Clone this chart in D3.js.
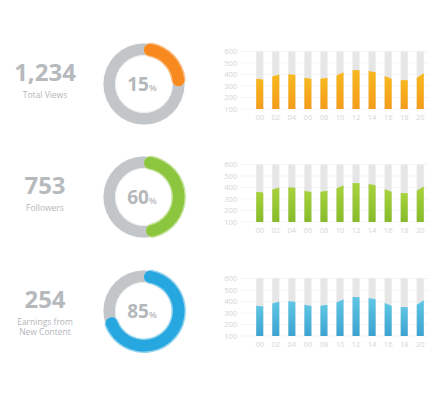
<!DOCTYPE html>
<html>
<head>
<meta charset="utf-8">
<script src="https://cdn.jsdelivr.net/npm/d3@7"></script>
<style>
	body{margin:0;background:#fff;}
	text{font-family:"Open Sans", sans-serif;}
</style>
</head>
<body>
<svg id="chart" width="437" height="396"></svg>
<script>
// stat blocks
const statValues = ["1,234", "753", "254"];
const statLabels = [["Total Views"], ["Followers"], ["Earnings from", "New Content"]];
const percentLabels = [15, 60, 85];
// share of the ring that is coloured, as drawn
const ringShare = [0.26, 0.49, 0.72];

// bar charts (same shape in every row)
const hours = ["00", "02", "04", "06", "08", "10", "12", "14", "16", "18", "20"];
const yTicks = [100, 200, 300, 400, 500, 600];
const barStart = [363, 383, 403, 371, 363, 391, 440, 431, 386, 351, 371];
const barEnd = [357, 400, 397, 360, 371, 420, 437, 420, 363, 351, 411];

const ringColors = ["#f7891f", "#8cc63e", "#26a7df"];
const ringGlow = ["#fbc089", "#c6e39b", "#94d3ee"];
const barTop = ["#f8b81c", "#a8d23c", "#5fc6e4"];
const barBottom = ["#f59c1d", "#86bb2c", "#3ba3cf"];

const svg = d3.select("#chart");
const rowY = [0, 113, 227];

const defs = svg.append("defs");
barTop.forEach(function(c, i){
	let g = defs.append("linearGradient")
		.attr("id", "bargrad" + i)
		.attr("x1", 0).attr("y1", 0).attr("x2", 0).attr("y2", 1);
	g.append("stop").attr("offset", "0%").attr("stop-color", c);
	g.append("stop").attr("offset", "100%").attr("stop-color", barBottom[i]);
});

const x = d3.scaleBand().domain(hours).range([253, 427]).paddingInner(0.56).paddingOuter(0.2);
const bw = x.bandwidth();

rowY.forEach(function(dy, i){
	let row = svg.append("g").attr("transform", "translate(0," + dy + ")");
	drawStat(row, i);
	drawRing(row, i);
	drawBars(row, i);
});

//big number with its caption
function drawStat(row, i){
	row.append("text")
		.attr("x", 45).attr("y", 81)
		.attr("text-anchor", "middle")
		.attr("font-size", 24).attr("font-weight", 700)
		.attr("fill", "#b7babd")
		.text(statValues[i]);
	row.selectAll("text.caption")
		.data(statLabels[i])
		.enter().append("text")
		.attr("class", "caption")
		.attr("x", 45)
		.attr("y", function(d, j){ return 98 + j * 10; })
		.attr("text-anchor", "middle")
		.attr("font-size", 8.5)
		.attr("fill", "#b3b6b9")
		.text(function(d){ return d; });
}

//donut ring with percent in the middle
function drawRing(row, i){
	let g = row.append("g").attr("transform", "translate(144,84)");
	g.append("circle").attr("r", 41).attr("fill", "#f1f2f3");
	g.append("path")
		.attr("d", d3.arc().innerRadius(29).outerRadius(40.5)({startAngle: 0, endAngle: 2 * Math.PI}))
		.attr("fill", "#c3c6c9");
	g.append("circle").attr("r", 28.5).attr("fill", "#fff").attr("stroke", "#eceeef").attr("stroke-width", 1);
	let a = ringShare[i] * 2 * Math.PI;
	g.append("path")
		.attr("d", d3.arc().innerRadius(27.5).outerRadius(42).cornerRadius(7)({startAngle: 0, endAngle: a}))
		.attr("fill", ringGlow[i]);
	g.append("path")
		.attr("d", d3.arc().innerRadius(29).outerRadius(40.5).cornerRadius(6)({startAngle: 0, endAngle: a}))
		.attr("fill", ringColors[i]);
	let t = g.append("text")
		.attr("x", -2).attr("y", 7)
		.attr("text-anchor", "middle")
		.attr("fill", "#b5b8bb");
	t.append("tspan").attr("font-size", 19).attr("font-weight", 700).text(percentLabels[i]);
	t.append("tspan").attr("font-size", 9).attr("font-weight", 600).text("%");
}

//columns whose tops follow the running value
function drawBars(row, i){
	let y = d3.scaleLinear().domain([100, 600]).range([109, 51.5]);
	let g = row.append("g");

	g.selectAll("line.grid")
		.data(yTicks)
		.enter().append("line")
		.attr("class", "grid")
		.attr("x1", 240).attr("x2", 429)
		.attr("y1", function(d){ return y(d); })
		.attr("y2", function(d){ return y(d); })
		.attr("stroke", "#f4f5f6").attr("stroke-width", 1);

	let yAxis = g.append("g")
		.attr("transform", "translate(237,0)")
		.call(d3.axisLeft(y).tickValues(yTicks).tickSize(0).tickPadding(0));
	yAxis.select(".domain").remove();
	yAxis.selectAll("text")
		.attr("font-size", 7.5)
		.attr("font-family", "Open Sans, sans-serif")
		.attr("fill", "#d3d6d8");

	let xAxis = g.append("g")
		.attr("transform", "translate(0,113)")
		.call(d3.axisBottom(x).tickSize(0).tickPadding(2));
	xAxis.select(".domain").remove();
	xAxis.selectAll("text")
		.attr("font-size", 7.5)
		.attr("font-family", "Open Sans, sans-serif")
		.attr("fill", "#d3d6d8");

	g.selectAll("rect.bg")
		.data(hours)
		.enter().append("rect")
		.attr("class", "bg")
		.attr("x", function(d){ return x(d); })
		.attr("y", y(600))
		.attr("width", bw)
		.attr("height", y(100) - y(600))
		.attr("fill", "#e6e6e6");

	g.selectAll("path.bar")
		.data(hours)
		.enter().append("path")
		.attr("class", "bar")
		.attr("d", function(d, j){
			let x0 = x(d), x1 = x(d) + bw;
			return "M" + x0 + "," + y(100) +
				"L" + x0 + "," + y(barStart[j]) +
				"L" + x1 + "," + y(barEnd[j]) +
				"L" + x1 + "," + y(100) + "Z";
		})
		.attr("fill", "url(#bargrad" + i + ")");
}
</script>
</body>
</html>
